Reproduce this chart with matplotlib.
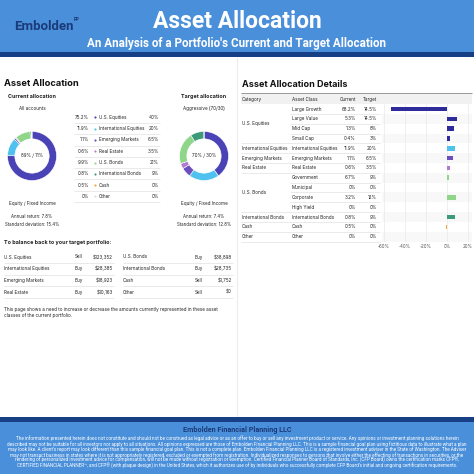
import matplotlib
matplotlib.use('Agg')
import matplotlib.pyplot as plt
from matplotlib.patches import Rectangle

plt.rcParams['font.family'] = ['Inter', 'DejaVu Sans']

# ---- data ----
asset_classes = ['U.S. Equities', 'International Equities', 'Emerging Markets', 'Real Estate',
                 'U.S. Bonds', 'International Bonds', 'Cash', 'Other']
current_pct = [75.2, 11.9, 1.1, 0.6, 9.9, 0.8, 0.5, 0]
target_pct = [40, 20, 6.5, 3.5, 21, 9, 0, 0]
asset_colors = ['#4a43b5', '#4fc1ef', '#6b4fbf', '#b278d2', '#8fd68b', '#3c9a79', '#f4a338', '#dcdcdc']
n_equity = 4  # first four classes are equity

current_stats = ['Annual return: 7.8%', 'Standard deviation: 15.4%']
target_stats = ['Annual return: 7.4%', 'Standard deviation: 12.8%']

rebal_left_names = ['U.S. Equities', 'International Equities', 'Emerging Markets', 'Real Estate']
rebal_left_action = ['Sell', 'Buy', 'Buy', 'Buy']
rebal_left_amount = ['$123,352', '$28,385', '$18,923', '$10,163']
rebal_right_names = ['U.S. Bonds', 'International Bonds', 'Cash', 'Other']
rebal_right_action = ['Buy', 'Buy', 'Sell', 'Sell']
rebal_right_amount = ['$38,898', '$28,735', '$1,752', '$0']

detail_groups = [('U.S. Equities', 4), ('International Equities', 1), ('Emerging Markets', 1),
                 ('Real Estate', 1), ('U.S. Bonds', 4), ('International Bonds', 1),
                 ('Cash', 1), ('Other', 1)]
detail_class = ['Large Growth', 'Large Value', 'Mid Cap', 'Small Cap', 'International Equities',
                'Emerging Markets', 'Real Estate', 'Government', 'Municipal', 'Corporate',
                'High Yield', 'International Bonds', 'Cash', 'Other']
detail_current = [68.2, 5.3, 1.3, 0.4, 11.9, 1.1, 0.6, 6.7, 0, 3.2, 0, 0.8, 0.5, 0]
detail_target = [14.5, 14.5, 8, 3, 20, 6.5, 3.5, 9, 0, 12, 0, 9, 0, 0]
detail_colors = ['#2e2b9b'] * 4 + ['#4fc1ef', '#6b4fbf', '#b278d2'] + ['#8fd68b'] * 4 + \
                ['#3c9a79', '#f4a338', '#dcdcdc']
bar_ticks = [-60, -40, -20, 0, 20]

disclaimer = [
    "The information presented herein does not constitute and should not be construed as legal advice or as an offer to buy or sell any investment product or service. Any opinions or investment planning solutions herein",
    "described may not be suitable for all investors nor apply to all situations. All opinions expressed are those of Embolden Financial Planning LLC. This is a sample financial goal plan using fictitious data to illustrate what a plan",
    "may look like. A client's report may look different than this sample financial goal plan. This is not a complete plan. Embolden Financial Planning LLC is a registered investment adviser in the State of Washington. The Adviser",
    "may not transact business in states where it is not appropriately registered, excluded or exempted from registration. Individualized responses to persons that involve either the effecting of transactions in securities, or the",
    "rendering of personalized investment advice for compensation, will not be made without registration or exemption. Certified Financial Planner Board of Standards, Inc. (CFP Board) owns the certification marks CFP\u00ae,",
    "CERTIFIED FINANCIAL PLANNER\u2122, and CFP\u00ae (with plaque design) in the United States, which it authorizes use of by individuals who successfully complete CFP Board's initial and ongoing certification requirements.",
]

HEADER_BLUE = '#4a8fda'
NAVY = '#173f86'
TEXT = '#222222'
LINE = '#e2e2e2'
FS = 3.3

W = H = 474
fig = plt.figure(figsize=(4.74, 4.74), dpi=100)
bg = fig.add_axes([0, 0, 1, 1])
bg.set_xlim(0, W)
bg.set_ylim(H, 0)
bg.axis('off')


def px_axes(x0, y0, x1, y1):
    return fig.add_axes([x0 / W, 1 - y1 / H, (x1 - x0) / W, (y1 - y0) / H])


def txt(x, y, s, size=FS, **kw):
    kw.setdefault('color', TEXT)
    kw.setdefault('va', 'center')
    bg.text(x, y, s, fontsize=size, **kw)


def hline(x0, x1, y, color=LINE, lw=0.5):
    bg.plot([x0, x1], [y, y], color=color, lw=lw, solid_capstyle='butt')


def fmt(v):
    return f'{v:g}%'


# ---- header ----
bg.add_patch(Rectangle((0, 0), W, 52, color=HEADER_BLUE, lw=0))
bg.add_patch(Rectangle((0, 52), W, 4.5, color=NAVY, lw=0))
txt(237, 21, 'Asset Allocation', 16.5, color='white', fontweight='bold', family='Roboto', ha='center')
txt(237, 43, "An Analysis of a Portfolio's Current and Target Allocation", 8.4,
    color='white', fontweight='bold', family='Roboto', ha='center')
txt(14, 26, 'Embolden', 9.5, color='#1b3a7a', fontweight='bold', family='Roboto')
txt(74, 19, 'FP', 3.5, color='#1b3a7a', fontweight='bold', family='Roboto')

# ---- footer ----
bg.add_patch(Rectangle((0, 417), W, 4.5, color=NAVY, lw=0))
bg.add_patch(Rectangle((0, 421.5), W, 53, color=HEADER_BLUE, lw=0))
txt(237, 430.5, 'Embolden Financial Planning LLC', 5.2, color='#1b3a7a', fontweight='bold',
    family='Roboto', ha='center')
for i, line in enumerate(disclaimer):
    txt(237, 438.3 + i * 5.5, line, 3.35, color='white', family='Roboto', ha='center')

# divider
bg.plot([237, 237], [58, 416], color='#ececec', lw=0.8)

# ---- left panel ----
txt(4, 83, 'Asset Allocation', 6.7, fontweight='bold', color='#111111')
txt(8, 96, 'Current allocation', 3.9, fontweight='bold')
txt(181, 96, 'Target allocation', 3.9, fontweight='bold')
txt(32, 108, 'All accounts', FS, ha='center')
txt(204, 108, 'Aggressive (70/30)', FS, ha='center')

for cx, vals, stats in [(32, current_pct, current_stats), (204, target_pct, target_stats)]:
    ax = px_axes(cx - 25, 156 - 25, cx + 25, 156 + 25)
    ax.pie(vals, colors=asset_colors, startangle=90, counterclock=False,
           wedgeprops=dict(width=0.3, edgecolor='white', linewidth=0.4))
    ax.set_xlim(-1.02, 1.02)
    ax.set_ylim(-1.02, 1.02)
    eq = sum(vals[:n_equity])
    fi = sum(vals[n_equity:])
    ax.text(0, 0, f'{eq:.0f}% / {fi:.0f}%', fontsize=FS, ha='center', va='center', color=TEXT)
    txt(cx, 203, 'Equity / Fixed Income', FS, ha='center')
    txt(cx, 217, stats[0], 3.1, ha='center')
    txt(cx, 224, stats[1], 3.1, ha='center')

# legend table
row_y0, row_dy = 117.3, 11.3
for i, name in enumerate(asset_classes):
    y = row_y0 + i * row_dy
    txt(89, y, fmt(current_pct[i]), FS, ha='right')
    bg.scatter([95], [y], s=2.4, color=asset_colors[i], lw=0)
    txt(99, y, name, FS)
    txt(159, y, fmt(target_pct[i]), FS, ha='right')
    hline(74, 160, y + row_dy / 2)

# rebalance table
txt(4, 242, 'To balance back to your target portfolio:', 3.9, fontweight='bold')
for i in range(4):
    y = 257 + i * 11.7
    txt(4, y, rebal_left_names[i], FS)
    txt(75, y, rebal_left_action[i], FS)
    txt(113, y, rebal_left_amount[i], FS, ha='right')
    txt(123, y, rebal_right_names[i], FS)
    txt(195, y, rebal_right_action[i], FS)
    txt(232, y, rebal_right_amount[i], FS, ha='right')
    hline(4, 114, y + 5.8)
    hline(123, 233, y + 5.8)
txt(4, 309, 'This page shows a need to increase or decrease the amounts currently represented in these asset', FS)
txt(4, 316, 'classes of the current portfolio.', FS)

# ---- right panel ----
txt(242, 84, 'Asset Allocation Details', 6.5, fontweight='bold', color='#111111')
bg.add_patch(Rectangle((241, 93), 231, 11, color='#f1f1f1', lw=0))
hline(241, 472, 93, color='#9a9a9a', lw=0.7)
txt(242, 99, 'Category', FS)
txt(292, 99, 'Asset Class', FS)
txt(356, 99, 'Current', FS, ha='right')
txt(377, 99, 'Target', FS, ha='right')

d_y0, d_dy = 109, 9.82
i = 0
for cat, n in detail_groups:
    ys = [d_y0 + (i + k) * d_dy for k in range(n)]
    txt(242, (ys[0] + ys[-1]) / 2, cat, FS)
    for k in range(n):
        j = i + k
        txt(292, ys[k], detail_class[j], FS)
        txt(356, ys[k], fmt(detail_current[j]), FS, ha='right')
        txt(377, ys[k], fmt(detail_target[j]), FS, ha='right')
        bottom = ys[k] + d_dy / 2
        if k == n - 1:
            hline(241, 380, bottom)
        else:
            hline(290, 380, bottom)
    i += n

# difference bars
bax = px_axes(382, d_y0 - d_dy / 2, 472, d_y0 + 13.5 * d_dy)
diffs = [t - c for t, c in zip(detail_target, detail_current)]
for r in range(len(diffs)):
    if r % 2 == 1:
        bax.axhspan(r - 0.5, r + 0.5, color='#f8f8f8', lw=0, zorder=0)
bax.barh(range(len(diffs)), diffs, height=0.46, color=detail_colors, zorder=3)
bax.set_xlim(-62, 24)
bax.set_ylim(len(diffs) - 0.5, -0.5)
bax.set_xticks(bar_ticks)
bax.set_xticklabels([f'{t}%' for t in bar_ticks], fontsize=3.2, color='#555555')
bax.set_yticks([])
bax.tick_params(axis='x', length=0, pad=1.5)
bax.grid(axis='x', color='#e9e9e9', lw=0.5, zorder=1)
for s in bax.spines.values():
    s.set_visible(False)
bax.patch.set_alpha(0)

fig.savefig('out.png', dpi=100)
